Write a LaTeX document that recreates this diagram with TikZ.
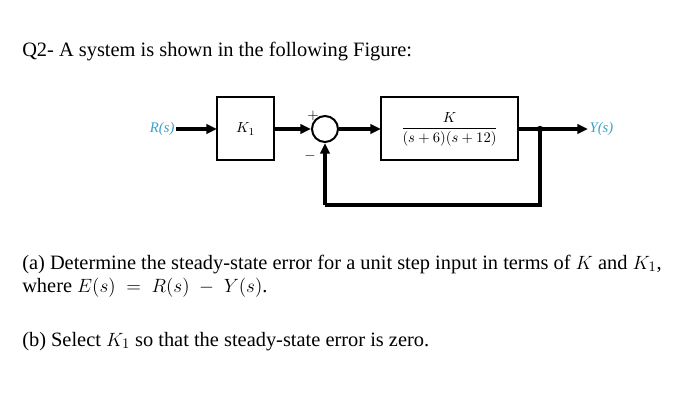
\documentclass[tikz,border=0pt]{standalone}
\usepackage{fontspec}
\setmainfont{Liberation Serif}
\usetikzlibrary{arrows.meta}
\definecolor{sig}{RGB}{60,160,200}
\begin{document}
\begin{tikzpicture}[x=0.75pt,y=-0.75pt,
  sigl/.style={line width=2.4pt,-{Triangle[length=8pt,width=7pt]}},
  wire/.style={line width=2.4pt},
  dg/.style={font=\fontsize{11}{13}\selectfont},
  txt/.style={anchor=base west,inner sep=0,font=\fontsize{15.3}{18}\selectfont}]
\useasboundingbox (0,0) rectangle (700,415);
\node[txt] (t) at (22,56) {Q2- A system is shown in the following Figure:};
\node[dg,anchor=east,inner sep=1pt,text=sig,font=\fontsize{11}{13}\selectfont\itshape] (R) at (176,129) {R(s)};
\draw[line width=1.5pt] (217,97) rectangle (274,160);
\coordinate (k1w) at (217,129); \coordinate (k1e) at (274,129);
\node[dg] (k1t) at (245.5,129) {$K_1$};
\node[draw,circle,line width=1.5pt,minimum size=19.5pt,inner sep=0] (S) at (325,129) {};
\draw[line width=1.5pt] (381,97) rectangle (518,160);
\coordinate (gw) at (381,129); \coordinate (ge) at (518,129);
\node[dg] (G) at (449.5,129) {$\displaystyle\frac{K}{(s+6)(s+12)}$};
\coordinate (br) at (540,129);
\node[anchor=west,inner sep=1pt,text=sig,font=\fontsize{11}{13}\selectfont\itshape] (Y) at (588,129) {Y(s)};
\coordinate (fb1) at (540,205); \coordinate (fb2) at (325,205);
\draw[sigl] (R) -- (k1w);
\draw[sigl] (k1e) -- (S);
\draw[sigl] (S) -- (gw);
\draw[wire] (ge) -- (br);
\draw[sigl] (br) -- (Y);
\fill (br) circle (2.4pt);
\draw[wire] (br) -- (fb1) -- (fb2);
\draw[sigl] (fb2) -- (S);
\node[dg] (p) at (313,116) {$+$};
\node[dg] (m) at (310,156) {$-$};
\node[txt] (a1) at (22,269) {(a) Determine the steady-state error for a unit step input in terms of $K$ and $K_1$,};
\node[txt] (a2) at (22,292) {where $E(s)\;=\;R(s)\;-\;Y(s)$.};
\node[txt] (b) at (22,346) {(b) Select $K_1$ so that the steady-state error is zero.};
\end{tikzpicture}
\end{document}
